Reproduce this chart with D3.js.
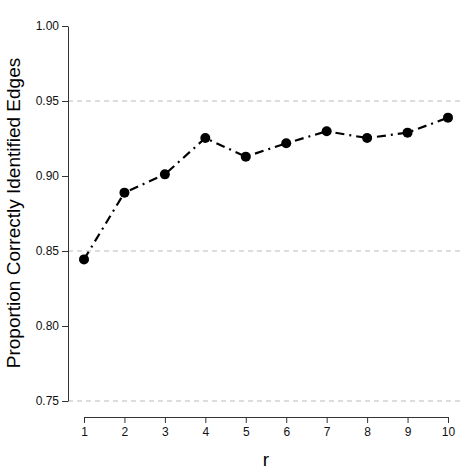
<!DOCTYPE html>
<html><head><meta charset="utf-8">
<script src="https://cdn.jsdelivr.net/npm/d3@7"></script>
<style>body{margin:0;background:#fff}text{font-family:"Liberation Sans",Arial,sans-serif}</style>
</head><body><svg id="c" width="474" height="474"></svg>
<script>
const rVals = [1,2,3,4,5,6,7,8,9,10];
const proportion = [0.8444,0.8889,0.9011,0.9253,0.9129,0.9218,0.9298,0.9253,0.9289,0.9389];
const yTicks = [0.75,0.80,0.85,0.90,0.95,1.00];
const gridLines = [0.75,0.85,0.95];

const svg = d3.select("#c");
const x = d3.scaleLinear().domain([1,10]).range([84,448]);
const y = d3.scaleLinear().domain([0.75,1.00]).range([401,26]);

// grid
svg.selectAll("line.grid").data(gridLines).enter().append("line")
  .attr("x1",68).attr("x2",462).attr("y1",d=>y(d)).attr("y2",d=>y(d))
  .attr("stroke","#bbb").attr("stroke-dasharray","5,4");

// y axis
const ya = svg.append("g").attr("transform","translate(68,0)")
  .call(d3.axisLeft(y).tickValues(yTicks).tickFormat(d3.format(".2f")).tickSize(6).tickSizeOuter(0));
// x axis
const xa = svg.append("g").attr("transform","translate(0,417)")
  .call(d3.axisBottom(x).tickValues(rVals).tickFormat(d3.format("d")).tickSize(6).tickSizeOuter(0));
[ya,xa].forEach(g=>{
  g.selectAll("path,line").attr("stroke","#333");
  g.selectAll("text").attr("font-size",12).attr("fill","#111").attr("font-family","Liberation Sans, Arial, sans-serif");
});
ya.selectAll("text").attr("x",-9);
xa.selectAll("text").attr("y",10);

svg.append("text").attr("x",266).attr("y",466).attr("text-anchor","middle")
  .attr("font-size",19).text("r");
svg.append("text").attr("transform","translate(20,213) rotate(-90)").attr("text-anchor","middle")
  .attr("font-size",19).text("Proportion Correctly Identified Edges");

const pts = rVals.map((r,i)=>[r,proportion[i]]);
svg.append("path").datum(pts)
  .attr("d",d3.line().x(d=>x(d[0])).y(d=>y(d[1])))
  .attr("fill","none").attr("stroke","#000").attr("stroke-width",2.2)
  .attr("stroke-dasharray","9,5,2,5");
svg.selectAll("circle").data(pts).enter().append("circle")
  .attr("cx",d=>x(d[0])).attr("cy",d=>y(d[1])).attr("r",5).attr("fill","#000");
</script></body></html>
